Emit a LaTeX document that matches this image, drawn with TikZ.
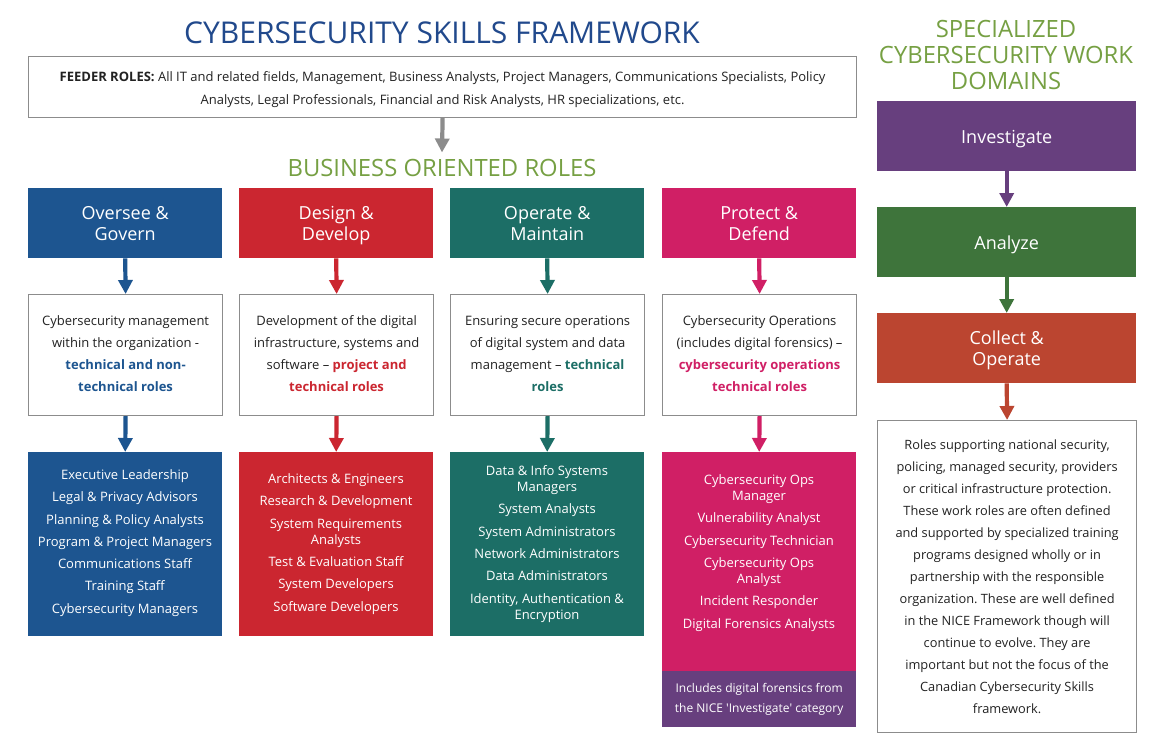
\documentclass[tikz,border=0pt]{standalone}
\usepackage{fontspec}
\setmainfont{Open Sans}
\usetikzlibrary{arrows.meta}
\definecolor{cblue}{HTML}{1D5590}
\definecolor{cred}{HTML}{CB2630}
\definecolor{cteal}{HTML}{1C6E66}
\definecolor{cpink}{HTML}{D01F65}
\definecolor{cpurple}{HTML}{673F7E}
\definecolor{cgreen}{HTML}{3E743B}
\definecolor{corange}{HTML}{BB4530}
\definecolor{ctitle}{HTML}{21498C}
\definecolor{clime}{HTML}{76A043}
\definecolor{gborder}{HTML}{8C8C8C}
\definecolor{ctext}{HTML}{222222}
\frenchspacing
\newcommand\hdrfont{\fontsize{18}{21}\selectfont}
\newcommand\descfont{\fontsize{13}{22}\selectfont}
\newcommand\listfont{\fontsize{13}{16}\selectfont}
\newcommand\htop{\rule{0pt}{18pt}}
\newcommand\hbot{\rule[-4.3pt]{0pt}{4.3pt}}
\newcommand\dtop{\rule{0pt}{10.5pt}}
\newcommand\dbot{\rule[-3.5pt]{0pt}{3.5pt}}
\tikzset{
  colbox/.style={inner sep=0pt, anchor=north west, text=white, align=center, minimum width=194pt},
  descbox/.style={draw=gborder, line width=1.2pt, fill=white, inner sep=0pt, anchor=north west, align=center, minimum width=194pt, minimum height=121pt, text=ctext, font=\descfont},
  arr/.style={-{Triangle[width=14pt,length=14pt]}, line width=4.2pt},
  lbl/.style={inner sep=0pt, align=center},
}
\begin{document}
\begin{tikzpicture}[x=1pt,y=-1pt]
\useasboundingbox (0,0) rectangle (1168,750);
\fill[white] (0,0) rectangle (1168,750);
% titles
\node[lbl, text=ctitle, font=\fontsize{30}{34}\selectfont] (title) at (442,33) {CYBERSECURITY SKILLS FRAMEWORK};
\node[draw=gborder, line width=1.2pt, inner sep=0pt, anchor=north west, minimum width=828pt, minimum height=61pt, align=center, text=ctext, font=\fontsize{13}{23}\selectfont] (feeder) at (28,56) {\rule{0pt}{15.5pt}\textbf{FEEDER ROLES:} All IT and related fields, Management, Business Analysts, Project Managers, Communications Specialists, Policy\\Analysts, Legal Professionals, Financial and Risk Analysts, HR specializations, etc.\rule[-3.5pt]{0pt}{3.5pt}};
\node[lbl, text=clime, font=\fontsize{23.8}{26}\selectfont] (bor) at (442,168) {BUSINESS ORIENTED ROLES};
\coordinate (borarr) at (442,152.5);
\draw[arr, gborder] (feeder.south) -- (borarr);
% headers
\node[colbox, fill=cblue, minimum height=70pt, font=\hdrfont] (h1) at (28,188) {\htop Oversee \&\\Govern\hbot};
\node[colbox, fill=cred, minimum height=70pt, font=\hdrfont] (h2) at (239,188) {\htop Design \&\\Develop\hbot};
\node[colbox, fill=cteal, minimum height=70pt, font=\hdrfont] (h3) at (450,188) {\htop Operate \&\\Maintain\hbot};
\node[colbox, fill=cpink, minimum height=70pt, font=\hdrfont] (h4) at (662,188) {\htop Protect \&\\Defend\hbot};
% descriptions
\node[descbox] (d1) at (28,294) {\dtop Cybersecurity management\\within the organization -\\\textcolor{cblue}{\textbf{technical and non-}}\\\textcolor{cblue}{\textbf{technical roles}}\dbot};
\node[descbox] (d2) at (239,294) {\dtop Development of the digital\\infrastructure, systems and\\software – \textcolor{cred}{\textbf{project and}}\\\textcolor{cred}{\textbf{technical roles}}\dbot};
\node[descbox] (d3) at (450,294) {\dtop Ensuring secure operations\\of digital system and data\\management – \textcolor{cteal}{\textbf{technical}}\\\textcolor{cteal}{\textbf{roles}}\dbot};
\node[descbox] (d4) at (662,294) {\dtop Cybersecurity Operations\\(includes digital forensics) –\\\textcolor{cpink}{\textbf{cybersecurity operations}}\\\textcolor{cpink}{\textbf{technical roles}}\dbot};
% lists
\node[colbox, fill=cblue, minimum height=184pt] (l1) at (28,452) {};
\node[colbox, fill=cred, minimum height=184pt] (l2) at (239,452) {};
\node[colbox, fill=cteal, minimum height=184pt] (l3) at (450,452) {};
\node[colbox, fill=cpink, minimum height=219pt] (l4) at (662,452) {};
\node[colbox, fill=cpurple, minimum height=56pt, font=\fontsize{12}{20}\selectfont] (l4b) at (662,671) {\rule{0pt}{10.5pt}Includes digital forensics from\\the NICE \textquotesingle Investigate\textquotesingle\ category\rule[-3pt]{0pt}{3pt}};
\node[lbl, text=white, font=\listfont] (t1) at (125,543) {Executive Leadership\\[6.3pt]Legal \& Privacy Advisors\\[6.3pt]Planning \& Policy Analysts\\[6.3pt]Program \& Project Managers\\[6.3pt]Communications Staff\\[6.3pt]Training Staff\\[6.3pt]Cybersecurity Managers};
\node[lbl, text=white, font=\listfont] (t2) at (336,544) {Architects \& Engineers\\[6.3pt]Research \& Development\\[6.3pt]System Requirements\\Analysts\\[6.3pt]Test \& Evaluation Staff\\[6.3pt]System Developers\\[6.3pt]Software Developers};
\node[lbl, text=white, font=\listfont] (t3) at (547,544) {Data \& Info Systems\\Managers\\[6.3pt]System Analysts\\[6.3pt]System Administrators\\[6.3pt]Network Administrators\\[6.3pt]Data Administrators\\[6.3pt]Identity, Authentication \&\\Encryption};
\node[lbl, text=white, font=\listfont] (t4) at (759,553) {Cybersecurity Ops\\Manager\\[6.3pt]Vulnerability Analyst\\[6.3pt]Cybersecurity Technician\\[6.3pt]Cybersecurity Ops\\Analyst\\[6.3pt]Incident Responder\\[6.3pt]Digital Forensics Analysts};
% column arrows
\foreach \i/\c in {1/cblue,2/cred,3/cteal,4/cpink}{
  \draw[arr, \c] (h\i.south) -- (d\i.north);
  \draw[arr, \c] (d\i.south) -- (l\i.north);
}
% right column
\node[lbl, text=clime, font=\fontsize{23.8}{26}\selectfont] (stitle) at (1006,55) {SPECIALIZED\\CYBERSECURITY WORK\\DOMAINS};
\node[colbox, minimum width=259pt, fill=cpurple, minimum height=70pt, font=\hdrfont] (inv) at (877,101) {\rule{0pt}{19pt}Investigate\hbot};
\node[colbox, minimum width=259pt, fill=cgreen, minimum height=70pt, font=\hdrfont] (ana) at (877,207) {\rule{0pt}{19pt}Analyze\hbot};
\node[colbox, minimum width=259pt, fill=corange, minimum height=70pt, font=\hdrfont] (col) at (877,313) {\htop Collect \&\\Operate\hbot};
\node[descbox, minimum width=259pt, minimum height=312pt, font=\fontsize{12.8}{22}\selectfont] (rtext) at (877,420) {Roles supporting national security,\\policing, managed security, providers\\or critical infrastructure protection.\\These work roles are often defined\\and supported by specialized training\\programs designed wholly or in\\partnership with the responsible\\organization. These are well defined\\in the NICE Framework though will\\continue to evolve. They are\\important but not the focus of the\\Canadian Cybersecurity Skills\\framework.};
\draw[arr, cpurple] (inv.south) -- (ana.north);
\draw[arr, cgreen] (ana.south) -- (col.north);
\draw[arr, corange] (col.south) -- (rtext.north);
\end{tikzpicture}
\end{document}
